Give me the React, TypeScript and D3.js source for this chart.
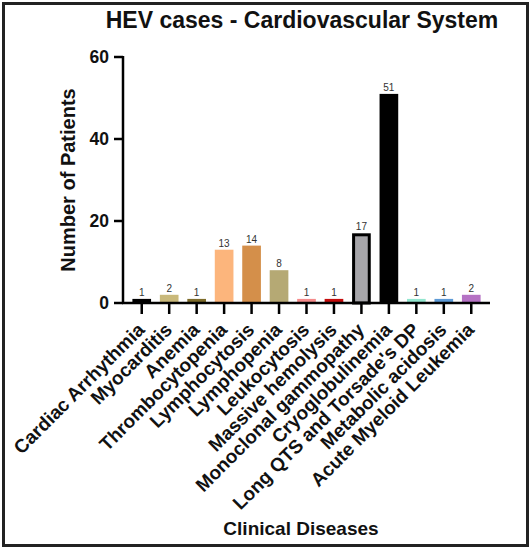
import React from "react";
import * as d3 from "d3";

const categories = [
  "Cardiac Arrhythmia",
  "Myocarditis",
  "Anemia",
  "Thrombocytopenia",
  "Lymphocytosis",
  "Lymphopenia",
  "Leukocytosis",
  "Massive hemolysis",
  "Monoclonal gammopathy",
  "Cryoglobulinemia",
  "Long QTS and Torsade's DP",
  "Metabolic acidosis",
  "Acute Myeloid Leukemia",
];

const patients = [1, 2, 1, 13, 14, 8, 1, 1, 17, 51, 1, 1, 2];

const barColors = [
  "#000000",
  "#c9b97b",
  "#7d6b2a",
  "#fcb57c",
  "#d48f4a",
  "#b5a974",
  "#f58b8b",
  "#c40c0c",
  "#a6a5a9",
  "#000000",
  "#93e6cf",
  "#5d9ad6",
  "#b572c4",
];

const yTicks = [0, 20, 40, 60];

const FONT = "'Liberation Sans', Arial, Helvetica, sans-serif";
const W = 531;
const H = 550;

export default function App() {
  const x = d3.scaleBand<string>().domain(categories).range([128, 485]).paddingInner(0.32).paddingOuter(0.16);
  const y = d3.scaleLinear().domain([0, 60]).range([303, 57]);
  const axisLeft = 123;
  const axisRight = 490;
  const base = y(0);

  return (
    <div style={{ position: "absolute", left: 0, top: 0 }}>
      <svg width={W} height={H} style={{ display: "block", background: "#fff" }} fontFamily={FONT}>
        {/* frame */}
        <rect x={3.5} y={3.5} width={524} height={542} fill="none" stroke="#222" strokeWidth={3} />

        {/* title */}
        <text x={302} y={28} textAnchor="middle" fontSize={23} fontWeight="bold" fill="#111">
          HEV cases - Cardiovascular System
        </text>

        {/* bars */}
        {categories.map((c, i) => {
          const v = patients[i];
          const bx = x(c)!;
          const bw = x.bandwidth();
          const outlined = c === "Monoclonal gammopathy";
          return (
            <g key={c}>
              <rect
                x={outlined ? bx + 1.5 : bx}
                y={outlined ? y(v) + 1.5 : y(v)}
                width={outlined ? bw - 3 : bw}
                height={outlined ? base - y(v) - 1.5 : base - y(v)}
                fill={barColors[i]}
                stroke={outlined ? "#000" : "none"}
                strokeWidth={outlined ? 3 : 0}
              />
              <text x={bx + bw / 2} y={y(v) - 3} textAnchor="middle" fontSize={10} fill="#333">
                {v}
              </text>
            </g>
          );
        })}

        {/* y axis */}
        <line x1={axisLeft} x2={axisLeft} y1={y(60) - 1} y2={base + 1} stroke="#000" strokeWidth={2.5} />
        {yTicks.map((t) => (
          <g key={t}>
            <line x1={axisLeft - 9} x2={axisLeft} y1={y(t)} y2={y(t)} stroke="#000" strokeWidth={2.5} />
            <text x={axisLeft - 14} y={y(t)} dy="0.36em" textAnchor="end" fontSize={17.5} fontWeight="bold" fill="#111">
              {t}
            </text>
          </g>
        ))}
        <text
          transform={`translate(75,${(y(60) + base) / 2}) rotate(-90)`}
          textAnchor="middle"
          fontSize={20}
          fontWeight="bold"
          fill="#111"
        >
          Number of Patients
        </text>

        {/* x axis */}
        <line x1={axisLeft - 1} x2={axisRight} y1={base} y2={base} stroke="#000" strokeWidth={2.5} />
        {categories.map((c) => {
          const cx = x(c)! + x.bandwidth() / 2;
          return (
            <g key={c}>
              <line x1={cx} x2={cx} y1={base} y2={base + 11} stroke="#000" strokeWidth={2.5} />
              <text
                transform={`translate(${cx + 4},${base + 28}) rotate(-45)`}
                textAnchor="end"
                fontSize={19}
                fontWeight="bold"
                fill="#111"
              >
                {c}
              </text>
            </g>
          );
        })}
        <text x={301} y={535} textAnchor="middle" fontSize={19} fontWeight="bold" fill="#111">
          Clinical Diseases
        </text>
      </svg>
    </div>
  );
}
